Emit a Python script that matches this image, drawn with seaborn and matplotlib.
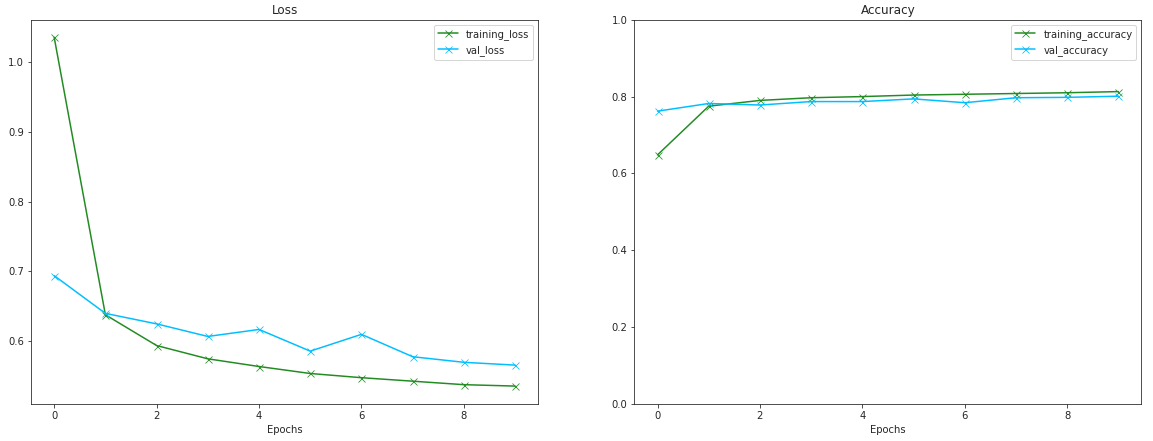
import matplotlib
matplotlib.use("Agg")
import matplotlib.pyplot as plt
import seaborn as sns
import pandas as pd

epochs = list(range(10))
training_loss = [1.035, 0.638, 0.594, 0.575, 0.564, 0.554, 0.548, 0.543, 0.538, 0.536]
val_loss = [0.694, 0.640, 0.625, 0.607, 0.617, 0.586, 0.610, 0.578, 0.570, 0.566]
training_accuracy = [0.648, 0.775, 0.790, 0.797, 0.800, 0.804, 0.806, 0.808, 0.810, 0.813]
val_accuracy = [0.762, 0.782, 0.778, 0.787, 0.787, 0.794, 0.784, 0.797, 0.798, 0.801]

sns.set_style("ticks")
plt.rcParams['font.family'] = ['DejaVu Sans']
fig, axes = plt.subplots(1, 2, figsize=(1153/72, 441/72), dpi=72)

def draw(ax, a, b, la, lb, title):
    sns.lineplot(x=epochs, y=a, ax=ax, color="forestgreen", marker="x", markeredgecolor="forestgreen", markersize=7, label=la)
    sns.lineplot(x=epochs, y=b, ax=ax, color="deepskyblue", marker="x", markeredgecolor="deepskyblue", markersize=7, label=lb)
    ax.set_title(title)
    ax.set_xlabel("Epochs")
    ax.set_xticks([0, 2, 4, 6, 8])
    ax.legend(loc="upper right")

draw(axes[0], training_loss, val_loss, "training_loss", "val_loss", "Loss")
draw(axes[1], training_accuracy, val_accuracy, "training_accuracy", "val_accuracy", "Accuracy")
axes[1].set_ylim(0, 1)
fig.subplots_adjust(left=0.027, right=0.99, bottom=0.085, top=0.955, wspace=0.19)
fig.savefig("out.png", dpi=72)
